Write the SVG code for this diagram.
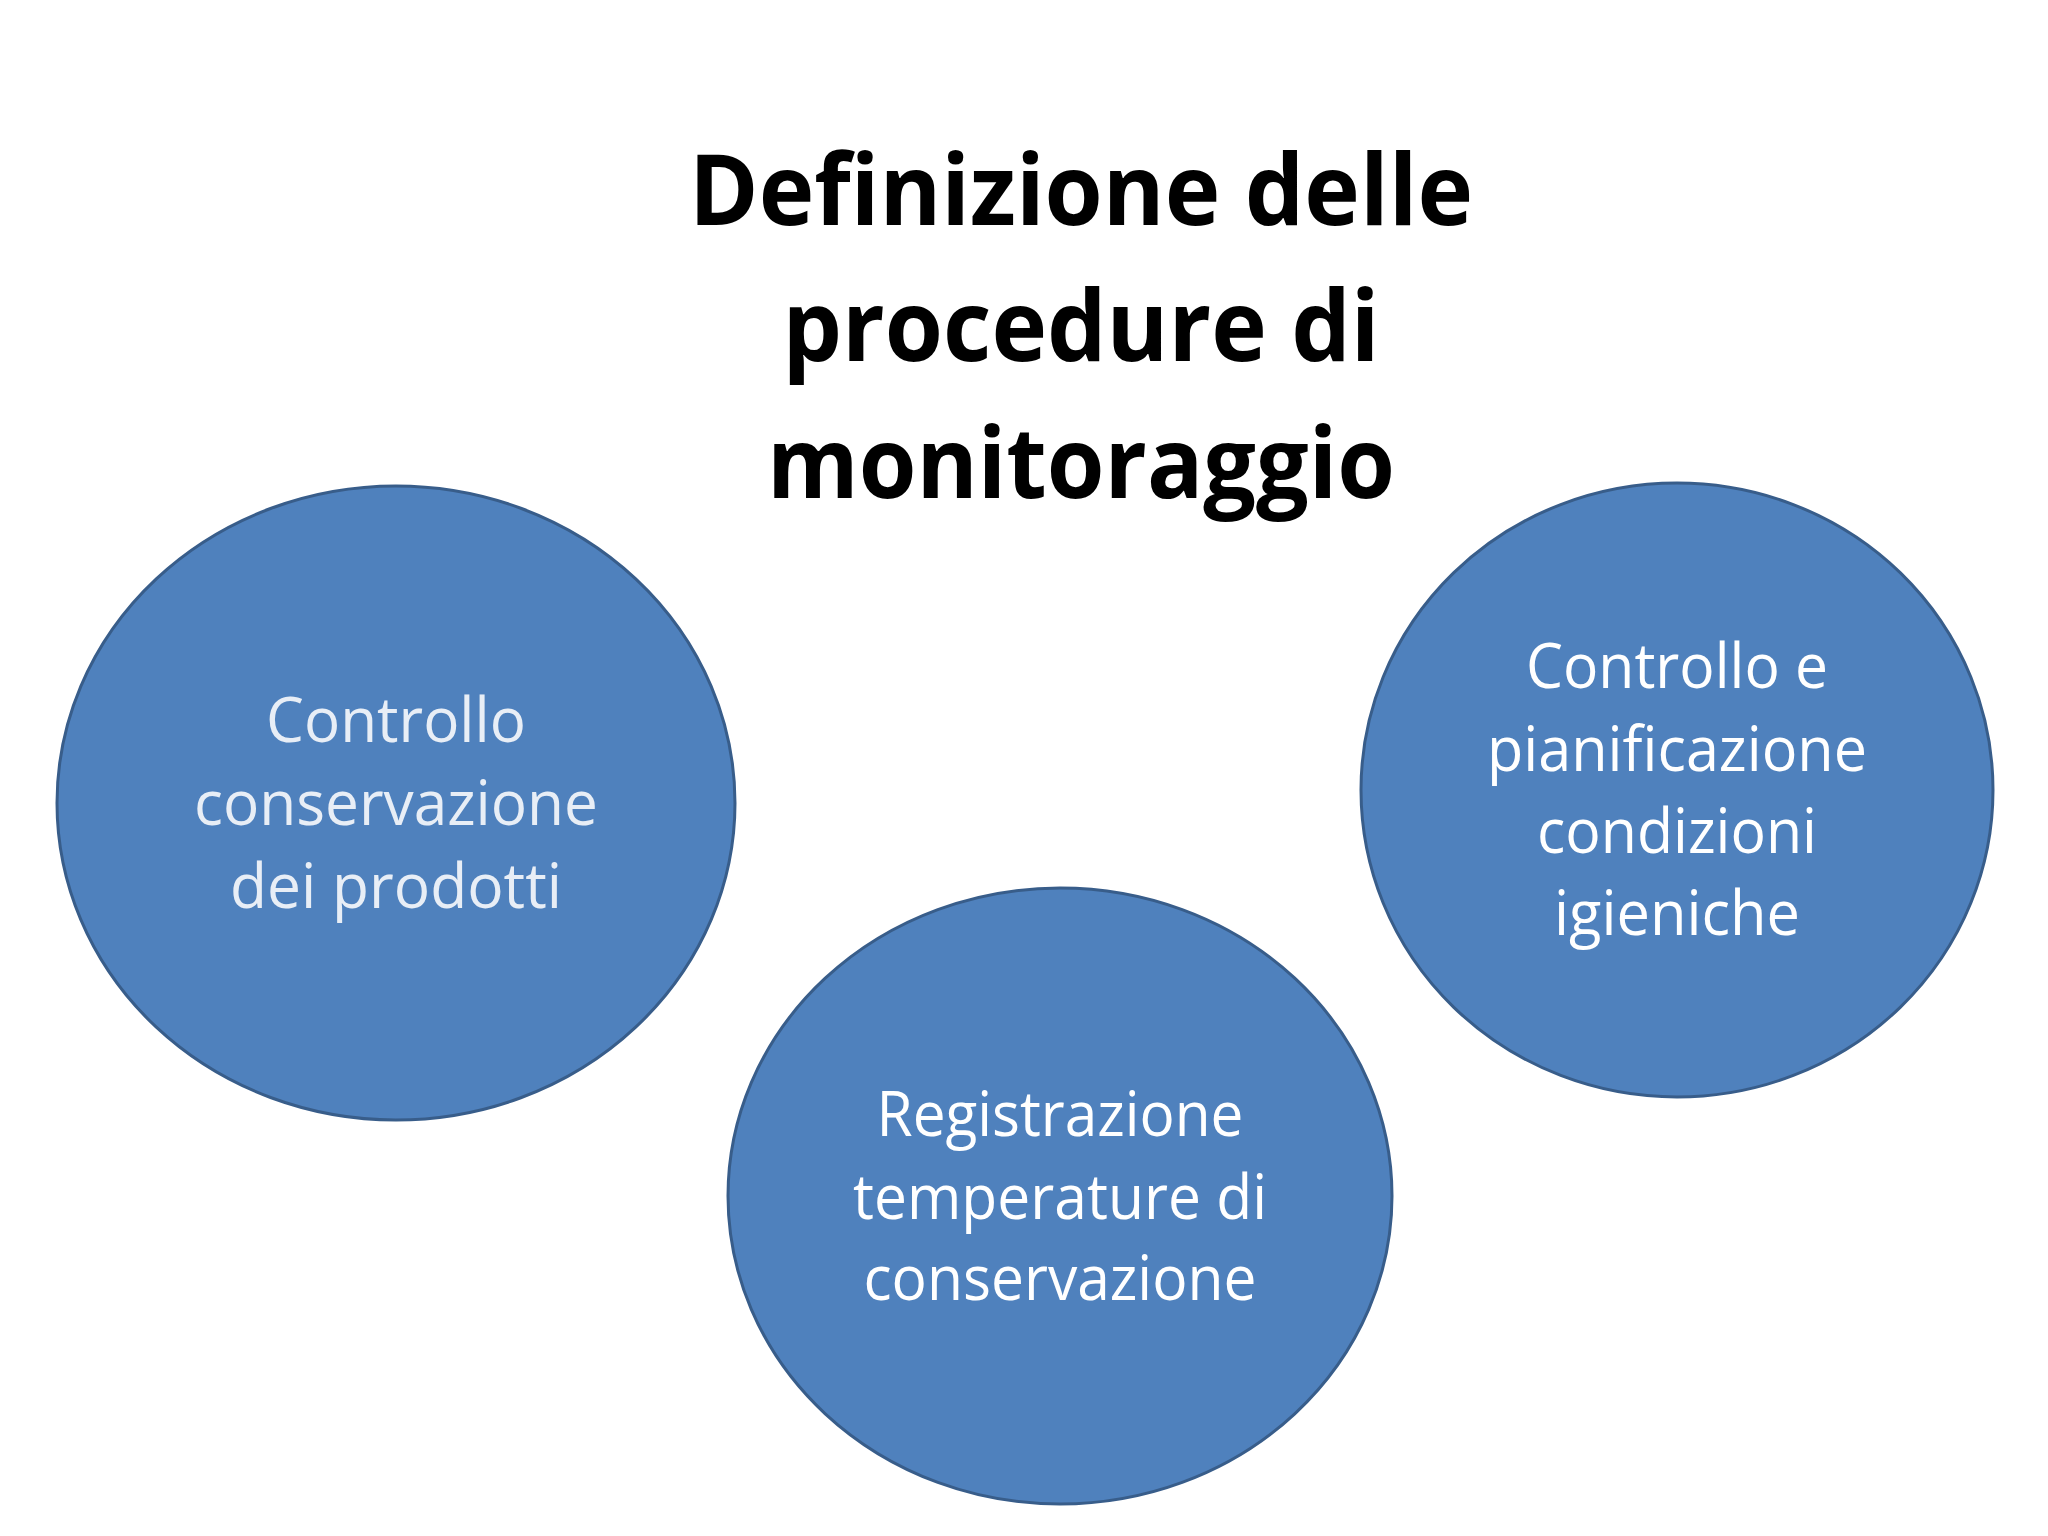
<svg xmlns="http://www.w3.org/2000/svg" width="2048" height="1536" viewBox="0 0 2048 1536">
<style>
.t{font-family:"Open Sans","Liberation Sans",sans-serif;font-weight:bold;font-size:98px;fill:#000;text-anchor:middle}
.n{fill:#4F81BD;stroke:#385D8A;stroke-width:3}
.l{font-family:"Open Sans","Liberation Sans",sans-serif;font-size:62px;fill:#fff;text-anchor:middle}
</style>
<rect width="2048" height="1536" fill="#fff"/>
<g id="title">
<text class="t" x="1081" y="225" textLength="784" lengthAdjust="spacingAndGlyphs">Definizione delle</text>
<text class="t" x="1081" y="361" textLength="597" lengthAdjust="spacingAndGlyphs">procedure di</text>
<text class="t" x="1081" y="498" textLength="628" lengthAdjust="spacingAndGlyphs">monitoraggio</text>
</g>
<g id="connectors"></g>
<g id="n1">
<ellipse class="n" cx="396" cy="803" rx="339" ry="317"/>
<text class="l" x="396" y="742" textLength="260" lengthAdjust="spacingAndGlyphs" fill="#e8eef6" style="fill:#e8eef6">Controllo</text>
<text class="l" x="396" y="825" textLength="404" lengthAdjust="spacingAndGlyphs" style="fill:#e8eef6">conservazione</text>
<text class="l" x="396" y="908" textLength="332" lengthAdjust="spacingAndGlyphs" style="fill:#e8eef6">dei prodotti</text>
</g>
<g id="n2">
<ellipse class="n" cx="1060" cy="1196" rx="332" ry="308"/>
<text class="l" x="1060" y="1136" textLength="367" lengthAdjust="spacingAndGlyphs">Registrazione</text>
<text class="l" x="1060" y="1219" textLength="414" lengthAdjust="spacingAndGlyphs">temperature di</text>
<text class="l" x="1060" y="1300" textLength="393" lengthAdjust="spacingAndGlyphs">conservazione</text>
</g>
<g id="n3">
<ellipse class="n" cx="1677" cy="790" rx="316" ry="307"/>
<text class="l" x="1677" y="688" textLength="302" lengthAdjust="spacingAndGlyphs">Controllo e</text>
<text class="l" x="1677" y="771" textLength="380" lengthAdjust="spacingAndGlyphs">pianificazione</text>
<text class="l" x="1677" y="853" textLength="280" lengthAdjust="spacingAndGlyphs">condizioni</text>
<text class="l" x="1677" y="935" textLength="246" lengthAdjust="spacingAndGlyphs">igieniche</text>
</g>
</svg>
